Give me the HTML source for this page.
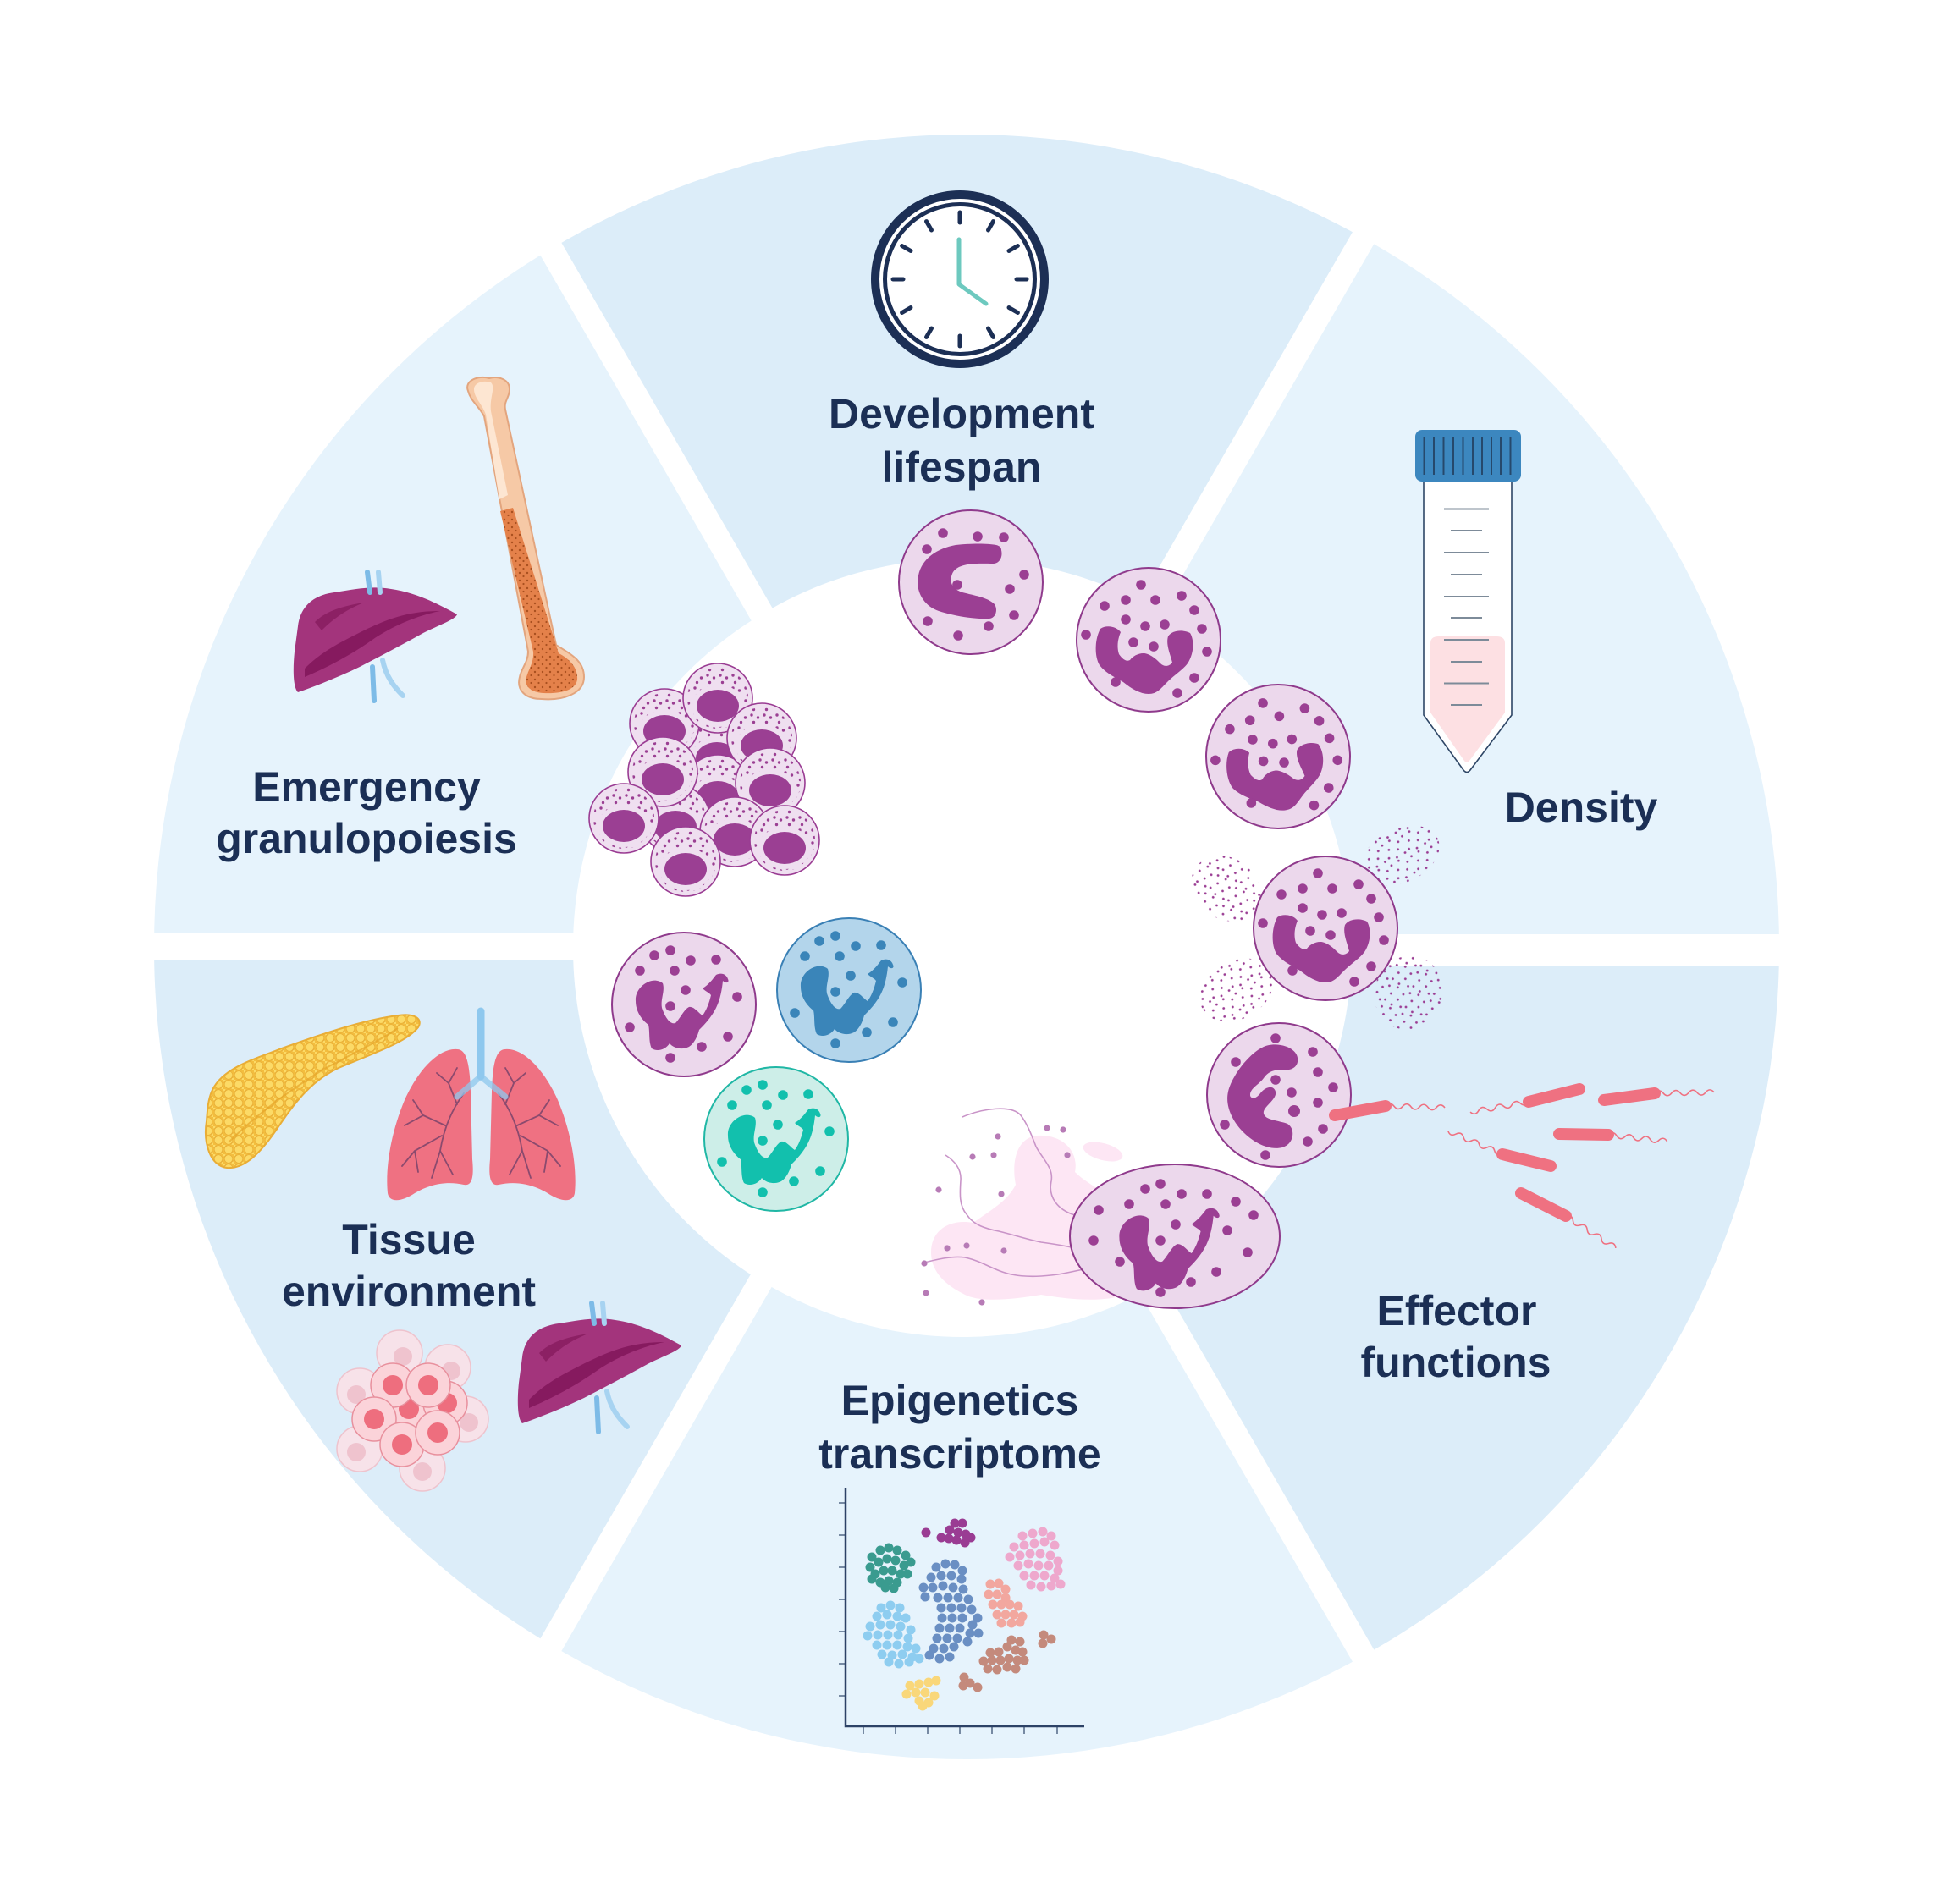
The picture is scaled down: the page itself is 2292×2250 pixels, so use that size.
<!DOCTYPE html>
<html><head><meta charset="utf-8">
<style>
html,body{margin:0;padding:0;background:#fff;width:2292px;height:2250px;overflow:hidden;}
svg{display:block;overflow:hidden;}
text{font-family:"Liberation Sans",Arial,sans-serif;font-weight:bold;font-size:50px;fill:#1b2f55;text-anchor:middle;}
</style></head>
<body>
<svg width="2292" height="2250" viewBox="0 0 2292 2250" xmlns="http://www.w3.org/2000/svg">
<defs>
  <clipPath id="outer"><circle cx="1142" cy="1119" r="960"/></clipPath>
  <pattern id="gr" width="15" height="15" patternUnits="userSpaceOnUse">
    <circle cx="3" cy="3" r="1.7" fill="#9b3f93"/><circle cx="10.5" cy="6" r="1.7" fill="#9b3f93"/><circle cx="5.5" cy="11.5" r="1.7" fill="#9b3f93"/>
  </pattern>
  <pattern id="sp" width="26" height="26" patternUnits="userSpaceOnUse">
    <circle cx="2" cy="3" r="1.4" fill="#9a3c93"/><circle cx="12" cy="1.5" r="1.4" fill="#9a3c93"/><circle cx="21" cy="7" r="1.4" fill="#9a3c93"/>
    <circle cx="7" cy="11" r="1.4" fill="#9a3c93"/><circle cx="17" cy="15" r="1.4" fill="#9a3c93"/><circle cx="3" cy="20" r="1.4" fill="#9a3c93"/>
    <circle cx="23" cy="22" r="1.4" fill="#9a3c93"/><circle cx="12" cy="23" r="1.4" fill="#9a3c93"/>
  </pattern>
  <pattern id="pc" width="12" height="11" patternUnits="userSpaceOnUse">
    <rect width="12" height="11" fill="#f3bd3e"/>
    <circle cx="6" cy="5.5" r="4.8" fill="#fcda66" stroke="#e8ad34" stroke-width="0.7"/>
    <circle cx="0" cy="0" r="3" fill="#fcda66" stroke="#e8ad34" stroke-width="0.7"/>
    <circle cx="12" cy="11" r="3" fill="#fcda66" stroke="#e8ad34" stroke-width="0.7"/>
  </pattern>
  <pattern id="bm" width="9" height="9" patternUnits="userSpaceOnUse">
    <rect width="9" height="9" fill="#e4814a"/>
    <circle cx="2" cy="2" r="1.2" fill="#a9501f"/><circle cx="6.5" cy="6" r="1.1" fill="#a9501f"/>
  </pattern>

  <g id="camel">
    <path d="M-38,-28 C-48,-26 -58,-16 -57,-4 C-57,8 -50,18 -42,24 C-40,32 -42,44 -38,52 C-32,56 -22,54 -17,46 C-12,52 -2,54 6,50 C12,46 16,38 18,30 C24,24 32,16 38,4 C43,-6 45,-18 46,-28 C50,-24 54,-26 52,-30 C50,-36 44,-38 38,-35 C34,-30 30,-24 22,-19 C26,-15 30,-14 32,-11 C30,-2 26,8 22,13 C17,10 12,2 6,3 C0,6 -4,16 -10,22 C-16,24 -22,16 -26,4 C-28,-6 -22,-16 -25,-25 C-28,-28 -34,-29 -38,-28 Z"/>
    <circle cx="-35" cy="-58" r="5.8"/><circle cx="-16" cy="-64" r="5.8"/><circle cx="8" cy="-52" r="5.8"/><circle cx="38" cy="-53" r="5.8"/>
    <circle cx="-52" cy="-40" r="5.8"/><circle cx="-11" cy="-40" r="5.8"/><circle cx="2" cy="-17" r="5.8"/><circle cx="-16" cy="2" r="5.8"/>
    <circle cx="63" cy="-9" r="5.8"/><circle cx="-64" cy="27" r="5.8"/><circle cx="52" cy="38" r="5.8"/><circle cx="21" cy="50" r="5.8"/><circle cx="-16" cy="63" r="5.8"/>
  </g>
  <g id="wn">
    <path d="M-57,-13 C-50,-18 -38,-16 -33,-9 C-36,-2 -38,8 -35,17 C-30,24 -26,26 -22,24 C-18,18 -8,14 -1,17 C6,20 10,24 14,28 C18,32 24,32 28,27 C26,18 20,6 23,-4 C28,-12 42,-12 49,-8 C54,0 54,16 46,28 C40,36 30,42 22,50 C14,58 10,64 0,64 C-10,64 -20,58 -30,50 C-40,44 -50,40 -58,30 C-64,20 -64,0 -57,-13 Z"/>
    <circle cx="-9" cy="-65" r="5.8"/><circle cx="-52" cy="-40" r="5.8"/><circle cx="-27" cy="-47" r="5.8"/><circle cx="8" cy="-47" r="5.8"/>
    <circle cx="39" cy="-52" r="5.8"/><circle cx="54" cy="-35" r="5.8"/><circle cx="-27" cy="-24" r="5.8"/><circle cx="-4" cy="-16" r="5.8"/>
    <circle cx="19" cy="-18" r="5.8"/><circle cx="-18" cy="3" r="5.8"/><circle cx="6" cy="8" r="5.8"/><circle cx="-74" cy="-6" r="5.8"/>
    <circle cx="63" cy="-13" r="5.8"/><circle cx="69" cy="14" r="5.8"/><circle cx="54" cy="45" r="5.8"/><circle cx="34" cy="63" r="5.8"/><circle cx="-39" cy="50" r="5.8"/>
  </g>
  <g id="imm">
    <circle r="41" fill="#efdff0" stroke="#9a3c93" stroke-width="1.6"/>
    <circle r="36" fill="url(#gr)"/>
    <ellipse cx="0" cy="9" rx="31" ry="25" fill="#efdff0"/>
    <ellipse cx="0" cy="9" rx="25" ry="19" fill="#9b3f93"/>
  </g>
  <g id="liver">
    <path d="M352,740 C355,715 372,703 395,700 C420,696 440,692 462,696 C490,700 515,712 540,726 C538,732 520,738 500,748 C475,762 450,775 425,788 C400,800 375,810 352,818 C346,812 346,790 348,770 Z" fill="#a3347c"/>
    <path d="M360,790 C380,770 400,760 430,745 C455,733 480,722 520,722 C490,728 460,742 440,756 C420,770 395,785 360,800 Z" fill="#861a5f"/>
    <path d="M372,735 C385,722 405,716 430,712 C410,720 395,730 380,745 Z" fill="#8c2064"/>
    <path d="M434,676 L437,700 M440,788 L442,828" stroke="#7dbbe7" stroke-width="6" fill="none" stroke-linecap="round"/>
    <path d="M447,676 L449,700 M452,780 C456,800 466,812 476,822" stroke="#a7d3f1" stroke-width="6" fill="none" stroke-linecap="round"/>
  </g>
  <path id="wave" d="M0,0 q5,-6 10,0 t10,0 t10,0 t10,0 t10,0 t10,0 t10,0" fill="none" stroke="#ef7181" stroke-width="1.6"/>
</defs>

<!-- sectors -->
<g clip-path="url(#outer)">
  <polygon points="1127,1119 481,0 1773,0" fill="#dcedf9"/>
  <polygon points="1127,1119 1773,0 2292,0 2292,1119" fill="#e6f3fc"/>
  <polygon points="1127,1119 2292,1119 2292,2250 1780,2250" fill="#dcedf9"/>
  <polygon points="1127,1119 1780,2250 474,2250" fill="#e6f3fc"/>
  <polygon points="1127,1119 474,2250 0,2250 0,1119" fill="#dcedf9"/>
  <polygon points="1127,1119 0,1119 0,0 481,0" fill="#e6f3fc"/>
</g>
<line x1="474" y1="2250" x2="1773" y2="0" stroke="#fff" stroke-width="29"/>
<line x1="481" y1="0" x2="1780" y2="2250" stroke="#fff" stroke-width="29"/>
<rect x="0" y="1103" width="1127" height="31" fill="#fff"/>
<rect x="1127" y="1104" width="1165" height="37" fill="#fff"/>
<circle cx="1137" cy="1120" r="460" fill="#fff"/>

<!-- labels -->
<text x="1136" y="506">Development</text>
<text x="1136" y="569">lifespan</text>
<text x="433" y="947">Emergency</text>
<text x="433" y="1008">granulopoiesis</text>
<text x="1868" y="971">Density</text>
<text x="483" y="1482">Tissue</text>
<text x="483" y="1543">environment</text>
<text x="1134" y="1672">Epigenetics</text>
<text x="1134" y="1735">transcriptome</text>
<text x="1721" y="1566">Effector</text>
<text x="1720" y="1627">functions</text>

<!-- clock -->
<g transform="translate(1134,330)">
  <circle r="100" fill="#fff" stroke="#1c2f55" stroke-width="10"/>
  <circle r="88.5" fill="#fff" stroke="#1c2f55" stroke-width="5"/>
  <g stroke="#1c2f55" stroke-width="5" stroke-linecap="round">
    <line x1="0" y1="-67" x2="0" y2="-79"/>
    <line x1="0" y1="-67" x2="0" y2="-79" transform="rotate(30)"/>
    <line x1="0" y1="-67" x2="0" y2="-79" transform="rotate(60)"/>
    <line x1="0" y1="-67" x2="0" y2="-79" transform="rotate(90)"/>
    <line x1="0" y1="-67" x2="0" y2="-79" transform="rotate(120)"/>
    <line x1="0" y1="-67" x2="0" y2="-79" transform="rotate(150)"/>
    <line x1="0" y1="-67" x2="0" y2="-79" transform="rotate(180)"/>
    <line x1="0" y1="-67" x2="0" y2="-79" transform="rotate(210)"/>
    <line x1="0" y1="-67" x2="0" y2="-79" transform="rotate(240)"/>
    <line x1="0" y1="-67" x2="0" y2="-79" transform="rotate(270)"/>
    <line x1="0" y1="-67" x2="0" y2="-79" transform="rotate(300)"/>
    <line x1="0" y1="-67" x2="0" y2="-79" transform="rotate(330)"/>
  </g>
  <path d="M-1,-47 L-1,6 L31,29" fill="none" stroke="#6dc9bf" stroke-width="5" stroke-linecap="round" stroke-linejoin="round"/>
</g>

<!-- tube -->
<g>
  <path d="M1682,569 L1682,845 L1729,910 Q1733,915 1737,910 L1786,845 L1786,569 Z" fill="#fff" stroke="#2e4666" stroke-width="1.6"/>
  <path d="M1690,760 Q1690,752 1700,752 L1768,752 Q1778,752 1778,760 L1778,842 L1736,899 Q1733,903 1730,899 L1690,842 Z" fill="#fde0e3"/>
  <g stroke="#7d8b99" stroke-width="2">
    <line x1="1706" y1="601.5" x2="1759" y2="601.5"/><line x1="1714" y1="627" x2="1751" y2="627"/>
    <line x1="1706" y1="653" x2="1759" y2="653"/><line x1="1714" y1="679" x2="1751" y2="679"/>
    <line x1="1706" y1="705" x2="1759" y2="705"/><line x1="1714" y1="730" x2="1751" y2="730"/>
    <line x1="1706" y1="756" x2="1759" y2="756"/><line x1="1714" y1="782" x2="1751" y2="782"/>
    <line x1="1706" y1="807.5" x2="1759" y2="807.5"/><line x1="1714" y1="833" x2="1751" y2="833"/>
  </g>
  <rect x="1672" y="508" width="125" height="61" rx="8" fill="#3c87bf"/>
  <g stroke="#26496c" stroke-width="2">
    <line x1="1682.5" y1="517" x2="1682.5" y2="561"/><line x1="1694" y1="517" x2="1694" y2="561"/>
    <line x1="1705.5" y1="517" x2="1705.5" y2="561"/><line x1="1717" y1="517" x2="1717" y2="561"/>
    <line x1="1728.5" y1="517" x2="1728.5" y2="561"/><line x1="1740" y1="517" x2="1740" y2="561"/>
    <line x1="1751" y1="517" x2="1751" y2="561"/><line x1="1762" y1="517" x2="1762" y2="561"/>
    <line x1="1773" y1="517" x2="1773" y2="561"/><line x1="1784.5" y1="517" x2="1784.5" y2="561"/>
  </g>
</g>

<!-- bone -->
<g>
  <path d="M553,462 C548,450 565,443 578,447 C588,444 602,448 602,460 C602,470 595,474 597,484 L657,762 C668,770 690,778 690,800 C690,820 665,828 640,826 C620,826 610,815 614,800 C616,790 624,782 624,770 L572,492 C566,480 556,474 553,462 Z" fill="#f6c9a6" stroke="#e3a57e" stroke-width="2"/>
  <path d="M560,460 C560,452 572,449 580,452 C586,458 578,470 580,486 L600,585 L590,590 L574,490 C570,478 560,470 560,460 Z" fill="#fde6d2"/>
  <path d="M591,604 L606,600 L660,772 C674,779 683,790 682,803 C680,816 662,820 642,819 C626,818 619,810 622,800 C625,790 631,782 630,770 Z" fill="url(#bm)"/>
</g>

<!-- livers -->
<use href="#liver"/>
<use href="#liver" transform="translate(265,864)"/>

<!-- pancreas -->
<path d="M250,1290 C262,1262 300,1252 330,1240 C380,1222 430,1205 470,1200 C490,1197 500,1204 494,1214 C480,1232 440,1245 400,1262 C370,1276 350,1300 330,1330 C310,1360 290,1382 268,1380 C248,1378 240,1350 244,1325 C245,1310 246,1300 250,1290 Z" fill="url(#pc)" stroke="#e9ad35" stroke-width="2"/>
<path d="M270,1350 C300,1320 340,1290 380,1265 C410,1248 440,1235 470,1215" fill="none" stroke="#e6a52a" stroke-width="2" opacity="0.7"/>

<!-- lungs -->
<g>
  <path d="M540,1240 C520,1238 495,1262 478,1300 C462,1338 455,1380 458,1410 C460,1422 475,1420 490,1410 C510,1398 530,1396 548,1400 C558,1402 560,1390 558,1370 L556,1290 C555,1260 552,1240 540,1240 Z" fill="#ef7182"/>
  <path d="M597,1240 C617,1238 642,1262 659,1300 C675,1338 682,1380 679,1410 C677,1422 662,1420 647,1410 C627,1398 607,1396 589,1400 C579,1402 577,1390 579,1370 L581,1290 C582,1260 585,1240 597,1240 Z" fill="#ef7182"/>
  <g stroke="#8b4a6e" stroke-width="1.8" fill="none" stroke-linecap="round">
    <path d="M548,1292 C535,1310 525,1330 520,1360 L510,1392 M520,1360 L535,1388 M526,1330 L500,1318 L488,1300 M500,1318 L478,1330 M522,1342 L490,1360 L475,1378 M490,1360 L494,1385 M540,1305 L530,1280 L516,1268 M530,1280 L540,1262"/>
    <path d="M589,1292 C602,1310 612,1330 617,1360 L627,1392 M617,1360 L602,1388 M611,1330 L637,1318 L649,1300 M637,1318 L659,1330 M615,1342 L647,1360 L662,1378 M647,1360 L643,1385 M597,1305 L607,1280 L621,1268 M607,1280 L597,1262"/>
  </g>
  <path d="M568,1195 L568,1272" stroke="#8ec8ee" stroke-width="9" stroke-linecap="round"/>
  <path d="M568,1272 L540,1296 M568,1272 L597,1296" stroke="#8ec8ee" stroke-width="7" stroke-linecap="round" opacity="0.75"/>
</g>

<!-- tissue cell cluster -->
<g>
  <g fill="#f7e2e9" stroke="#eec3cd" stroke-width="1.5">
    <circle cx="472" cy="1599" r="27"/><circle cx="529" cy="1616" r="27"/><circle cx="425" cy="1644" r="27"/>
    <circle cx="550" cy="1677" r="27"/><circle cx="425" cy="1712" r="27"/><circle cx="499" cy="1735" r="27"/>
  </g>
  <g fill="#efc3ce">
    <circle cx="476" cy="1603" r="11"/><circle cx="533" cy="1620" r="11"/><circle cx="421" cy="1648" r="11"/>
    <circle cx="554" cy="1681" r="11"/><circle cx="421" cy="1716" r="11"/><circle cx="499" cy="1739" r="11"/>
  </g>
  <g stroke="#e8909d" stroke-width="1.5">
    <circle cx="483" cy="1665" r="26" fill="#fbd3d9"/><circle cx="483" cy="1665" r="12" fill="#ee6e7e" stroke="none"/>
    <circle cx="526" cy="1658" r="26" fill="#fbd3d9"/><circle cx="528" cy="1658" r="12" fill="#ee6e7e" stroke="none"/>
    <circle cx="464" cy="1637" r="26" fill="#fbd3d9"/><circle cx="464" cy="1637" r="12" fill="#ee6e7e" stroke="none"/>
    <circle cx="506" cy="1637" r="26" fill="#fbd3d9"/><circle cx="506" cy="1637" r="12" fill="#ee6e7e" stroke="none"/>
    <circle cx="442" cy="1677" r="26" fill="#fbd3d9"/><circle cx="442" cy="1677" r="12" fill="#ee6e7e" stroke="none"/>
    <circle cx="475" cy="1707" r="26" fill="#fbd3d9"/><circle cx="475" cy="1707" r="12" fill="#ee6e7e" stroke="none"/>
    <circle cx="517" cy="1693" r="26" fill="#fbd3d9"/><circle cx="517" cy="1693" r="12" fill="#ee6e7e" stroke="none"/>
  </g>
</g>

<!-- scatter plot -->
<g>
  <g stroke="#6b7e99" stroke-width="1.8">
    <line x1="991" y1="1776" x2="999" y2="1776"/><line x1="991" y1="1814" x2="999" y2="1814"/><line x1="991" y1="1852" x2="999" y2="1852"/>
    <line x1="991" y1="1890" x2="999" y2="1890"/><line x1="991" y1="1928" x2="999" y2="1928"/><line x1="991" y1="1966" x2="999" y2="1966"/>
    <line x1="991" y1="2004" x2="999" y2="2004"/>
    <line x1="1020" y1="2040" x2="1020" y2="2049"/><line x1="1058" y1="2040" x2="1058" y2="2049"/><line x1="1096" y1="2040" x2="1096" y2="2049"/>
    <line x1="1134" y1="2040" x2="1134" y2="2049"/><line x1="1172" y1="2040" x2="1172" y2="2049"/><line x1="1210" y1="2040" x2="1210" y2="2049"/>
    <line x1="1249" y1="2040" x2="1249" y2="2049"/>
  </g>
  <path d="M999,1758 L999,2040 L1281,2040" fill="none" stroke="#2d4266" stroke-width="2.5"/>
  <g fill="#3a9b8f">
    <circle cx="1030" cy="1840" r="5.5"/><circle cx="1040" cy="1832" r="5.5"/><circle cx="1050" cy="1829" r="5.5"/><circle cx="1060" cy="1832" r="5.5"/>
    <circle cx="1070" cy="1838" r="5.5"/><circle cx="1076" cy="1846" r="5.5"/><circle cx="1028" cy="1852" r="5.5"/><circle cx="1038" cy="1846" r="5.5"/>
    <circle cx="1048" cy="1842" r="5.5"/><circle cx="1058" cy="1844" r="5.5"/><circle cx="1068" cy="1850" r="5.5"/><circle cx="1034" cy="1860" r="5.5"/>
    <circle cx="1044" cy="1856" r="5.5"/><circle cx="1054" cy="1856" r="5.5"/><circle cx="1064" cy="1860" r="5.5"/><circle cx="1040" cy="1870" r="5.5"/>
    <circle cx="1050" cy="1868" r="5.5"/><circle cx="1060" cy="1870" r="5.5"/><circle cx="1046" cy="1876" r="5.5"/><circle cx="1056" cy="1877" r="5.5"/>
    <circle cx="1030" cy="1866" r="5.5"/><circle cx="1072" cy="1860" r="5.5"/>
  </g>
  <g fill="#9a3c93">
    <circle cx="1094" cy="1811" r="5.5"/><circle cx="1112" cy="1817" r="5.5"/><circle cx="1122" cy="1808" r="5.5"/><circle cx="1128" cy="1800" r="5.5"/>
    <circle cx="1137" cy="1800" r="5.5"/><circle cx="1132" cy="1811" r="5.5"/><circle cx="1141" cy="1813" r="5.5"/><circle cx="1147" cy="1817" r="5.5"/>
    <circle cx="1140" cy="1823" r="5.5"/><circle cx="1130" cy="1820" r="5.5"/><circle cx="1121" cy="1818" r="5.5"/>
  </g>
  <g fill="#eea8cd">
    <circle cx="1208" cy="1815" r="5.5"/><circle cx="1220" cy="1812" r="5.5"/><circle cx="1232" cy="1810" r="5.5"/><circle cx="1242" cy="1815" r="5.5"/>
    <circle cx="1198" cy="1828" r="5.5"/><circle cx="1210" cy="1826" r="5.5"/><circle cx="1222" cy="1824" r="5.5"/><circle cx="1234" cy="1822" r="5.5"/>
    <circle cx="1246" cy="1826" r="5.5"/><circle cx="1193" cy="1840" r="5.5"/><circle cx="1205" cy="1838" r="5.5"/><circle cx="1217" cy="1836" r="5.5"/>
    <circle cx="1229" cy="1836" r="5.5"/><circle cx="1241" cy="1838" r="5.5"/><circle cx="1250" cy="1845" r="5.5"/><circle cx="1203" cy="1850" r="5.5"/>
    <circle cx="1215" cy="1848" r="5.5"/><circle cx="1227" cy="1850" r="5.5"/><circle cx="1239" cy="1850" r="5.5"/><circle cx="1250" cy="1856" r="5.5"/>
    <circle cx="1210" cy="1862" r="5.5"/><circle cx="1222" cy="1862" r="5.5"/><circle cx="1234" cy="1862" r="5.5"/><circle cx="1246" cy="1865" r="5.5"/>
    <circle cx="1253" cy="1872" r="5.5"/><circle cx="1218" cy="1873" r="5.5"/><circle cx="1230" cy="1875" r="5.5"/><circle cx="1242" cy="1874" r="5.5"/>
  </g>
  <g fill="#6a8fc3">
    <circle cx="1106" cy="1852" r="5.5"/><circle cx="1117" cy="1848" r="5.5"/><circle cx="1128" cy="1849" r="5.5"/><circle cx="1137" cy="1856" r="5.5"/>
    <circle cx="1100" cy="1864" r="5.5"/><circle cx="1112" cy="1862" r="5.5"/><circle cx="1124" cy="1862" r="5.5"/><circle cx="1136" cy="1866" r="5.5"/>
    <circle cx="1091" cy="1876" r="5.5"/><circle cx="1102" cy="1876" r="5.5"/><circle cx="1114" cy="1874" r="5.5"/><circle cx="1126" cy="1876" r="5.5"/>
    <circle cx="1138" cy="1878" r="5.5"/><circle cx="1093" cy="1887" r="5.5"/><circle cx="1108" cy="1888" r="5.5"/><circle cx="1120" cy="1888" r="5.5"/>
    <circle cx="1132" cy="1888" r="5.5"/><circle cx="1144" cy="1890" r="5.5"/><circle cx="1112" cy="1900" r="5.5"/><circle cx="1124" cy="1900" r="5.5"/>
    <circle cx="1136" cy="1900" r="5.5"/><circle cx="1148" cy="1902" r="5.5"/><circle cx="1155" cy="1912" r="5.5"/><circle cx="1113" cy="1912" r="5.5"/>
    <circle cx="1125" cy="1912" r="5.5"/><circle cx="1137" cy="1912" r="5.5"/><circle cx="1149" cy="1920" r="5.5"/><circle cx="1110" cy="1924" r="5.5"/>
    <circle cx="1122" cy="1924" r="5.5"/><circle cx="1134" cy="1924" r="5.5"/><circle cx="1146" cy="1930" r="5.5"/><circle cx="1156" cy="1930" r="5.5"/>
    <circle cx="1107" cy="1936" r="5.5"/><circle cx="1119" cy="1936" r="5.5"/><circle cx="1131" cy="1936" r="5.5"/><circle cx="1143" cy="1940" r="5.5"/>
    <circle cx="1103" cy="1948" r="5.5"/><circle cx="1115" cy="1948" r="5.5"/><circle cx="1127" cy="1946" r="5.5"/><circle cx="1098" cy="1956" r="5.5"/>
    <circle cx="1110" cy="1960" r="5.5"/><circle cx="1122" cy="1958" r="5.5"/>
  </g>
  <g fill="#8ecdf0">
    <circle cx="1041" cy="1900" r="5.5"/><circle cx="1052" cy="1897" r="5.5"/><circle cx="1063" cy="1900" r="5.5"/><circle cx="1036" cy="1910" r="5.5"/>
    <circle cx="1048" cy="1908" r="5.5"/><circle cx="1060" cy="1910" r="5.5"/><circle cx="1070" cy="1912" r="5.5"/><circle cx="1028" cy="1922" r="5.5"/>
    <circle cx="1040" cy="1920" r="5.5"/><circle cx="1052" cy="1920" r="5.5"/><circle cx="1064" cy="1922" r="5.5"/><circle cx="1076" cy="1926" r="5.5"/>
    <circle cx="1025" cy="1933" r="5.5"/><circle cx="1037" cy="1932" r="5.5"/><circle cx="1049" cy="1932" r="5.5"/><circle cx="1061" cy="1932" r="5.5"/>
    <circle cx="1073" cy="1936" r="5.5"/><circle cx="1036" cy="1944" r="5.5"/><circle cx="1048" cy="1944" r="5.5"/><circle cx="1060" cy="1944" r="5.5"/>
    <circle cx="1072" cy="1946" r="5.5"/><circle cx="1082" cy="1948" r="5.5"/><circle cx="1042" cy="1955" r="5.5"/><circle cx="1054" cy="1956" r="5.5"/>
    <circle cx="1066" cy="1955" r="5.5"/><circle cx="1078" cy="1958" r="5.5"/><circle cx="1086" cy="1960" r="5.5"/><circle cx="1050" cy="1964" r="5.5"/>
    <circle cx="1062" cy="1966" r="5.5"/><circle cx="1074" cy="1964" r="5.5"/>
  </g>
  <g fill="#f2a79f">
    <circle cx="1170" cy="1872" r="5.5"/><circle cx="1180" cy="1871" r="5.5"/><circle cx="1188" cy="1878" r="5.5"/><circle cx="1168" cy="1884" r="5.5"/>
    <circle cx="1178" cy="1884" r="5.5"/><circle cx="1188" cy="1888" r="5.5"/><circle cx="1173" cy="1896" r="5.5"/><circle cx="1183" cy="1896" r="5.5"/>
    <circle cx="1193" cy="1896" r="5.5"/><circle cx="1203" cy="1898" r="5.5"/><circle cx="1178" cy="1908" r="5.5"/><circle cx="1188" cy="1908" r="5.5"/>
    <circle cx="1198" cy="1908" r="5.5"/><circle cx="1208" cy="1910" r="5.5"/><circle cx="1183" cy="1918" r="5.5"/><circle cx="1195" cy="1918" r="5.5"/>
    <circle cx="1205" cy="1917" r="5.5"/>
  </g>
  <g fill="#c48a7c">
    <circle cx="1195" cy="1938" r="5.5"/><circle cx="1205" cy="1940" r="5.5"/><circle cx="1190" cy="1946" r="5.5"/><circle cx="1200" cy="1950" r="5.5"/>
    <circle cx="1208" cy="1952" r="5.5"/><circle cx="1170" cy="1953" r="5.5"/><circle cx="1180" cy="1952" r="5.5"/><circle cx="1162" cy="1963" r="5.5"/>
    <circle cx="1172" cy="1962" r="5.5"/><circle cx="1182" cy="1962" r="5.5"/><circle cx="1192" cy="1960" r="5.5"/><circle cx="1202" cy="1962" r="5.5"/>
    <circle cx="1210" cy="1962" r="5.5"/><circle cx="1167" cy="1972" r="5.5"/><circle cx="1178" cy="1973" r="5.5"/><circle cx="1190" cy="1970" r="5.5"/>
    <circle cx="1200" cy="1972" r="5.5"/>
    <circle cx="1233" cy="1932" r="5.5"/><circle cx="1242" cy="1937" r="5.5"/><circle cx="1232" cy="1942" r="5.5"/>
    <circle cx="1139" cy="1982" r="5.5"/><circle cx="1146" cy="1989" r="5.5"/><circle cx="1138" cy="1992" r="5.5"/><circle cx="1155" cy="1994" r="5.5"/>
  </g>
  <g fill="#f9d77a">
    <circle cx="1075" cy="1992" r="5.5"/><circle cx="1086" cy="1990" r="5.5"/><circle cx="1097" cy="1988" r="5.5"/><circle cx="1106" cy="1986" r="5.5"/>
    <circle cx="1071" cy="2002" r="5.5"/><circle cx="1082" cy="2000" r="5.5"/><circle cx="1093" cy="2000" r="5.5"/><circle cx="1104" cy="2004" r="5.5"/>
    <circle cx="1086" cy="2010" r="5.5"/><circle cx="1097" cy="2012" r="5.5"/><circle cx="1090" cy="2016" r="5.5"/>
  </g>
</g>

<!-- NET -->
<g>
  <path d="M1100,1480 C1100,1455 1120,1440 1150,1445 C1170,1430 1190,1420 1200,1400 C1195,1375 1200,1345 1225,1342 C1255,1340 1275,1360 1270,1385 C1285,1400 1310,1410 1330,1430 L1330,1530 C1300,1540 1260,1535 1230,1530 C1200,1535 1160,1540 1140,1530 C1120,1520 1100,1505 1100,1480 Z" fill="#fde6f4"/>
  <ellipse cx="1303" cy="1361" rx="24" ry="10" transform="rotate(15 1303 1361)" fill="#fde6f4"/>
  <g fill="none" stroke="#c994c8" stroke-width="1.6">
    <path d="M1137,1320 C1160,1310 1195,1305 1206,1318 C1215,1330 1220,1345 1224,1355 C1232,1370 1245,1380 1242,1396 C1238,1415 1250,1430 1270,1436"/>
    <path d="M1117,1365 C1128,1372 1136,1382 1135,1395 C1134,1410 1133,1425 1142,1435 C1150,1448 1165,1452 1180,1455 C1200,1460 1215,1465 1230,1468 C1245,1470 1258,1472 1270,1475"/>
    <path d="M1092,1492 C1108,1488 1125,1484 1140,1486 C1160,1490 1175,1502 1195,1506 C1215,1510 1235,1508 1250,1506 C1262,1504 1270,1502 1280,1500"/>
  </g>
  <g fill="#b77bb6">
    <circle cx="1179" cy="1343" r="3.6"/><circle cx="1237" cy="1333" r="3.6"/><circle cx="1256" cy="1335" r="3.6"/><circle cx="1149" cy="1367" r="3.6"/>
    <circle cx="1174" cy="1365" r="3.6"/><circle cx="1261" cy="1365" r="3.6"/><circle cx="1109" cy="1406" r="3.6"/><circle cx="1183" cy="1411" r="3.6"/>
    <circle cx="1119" cy="1475" r="3.6"/><circle cx="1142" cy="1472" r="3.6"/><circle cx="1186" cy="1478" r="3.6"/><circle cx="1092" cy="1493" r="3.6"/>
    <circle cx="1094" cy="1528" r="3.6"/><circle cx="1160" cy="1539" r="3.6"/>
  </g>
</g>

<!-- granule clouds -->
<ellipse cx="1449" cy="1050" rx="44" ry="36" transform="rotate(35 1449 1050)" fill="url(#sp)"/>
<ellipse cx="1655" cy="1011" rx="48" ry="32" transform="rotate(-25 1655 1011)" fill="url(#sp)"/>
<ellipse cx="1461" cy="1170" rx="46" ry="34" transform="rotate(-30 1461 1170)" fill="url(#sp)"/>
<ellipse cx="1664" cy="1173" rx="40" ry="44" transform="rotate(20 1664 1173)" fill="url(#sp)"/>

<!-- immature cluster -->
<use href="#imm" transform="translate(847,887)"/>
<use href="#imm" transform="translate(848,933)"/>
<use href="#imm" transform="translate(798,968)"/>
<use href="#imm" transform="translate(785,855)"/>
<use href="#imm" transform="translate(848,825)"/>
<use href="#imm" transform="translate(900,872)"/>
<use href="#imm" transform="translate(783,912)"/>
<use href="#imm" transform="translate(910,925)"/>
<use href="#imm" transform="translate(737,967)"/>
<use href="#imm" transform="translate(868,983)"/>
<use href="#imm" transform="translate(927,993)"/>
<use href="#imm" transform="translate(810,1018)"/>

<!-- ring of neutrophils -->
<g>
  <circle cx="1147" cy="688" r="85" fill="#ecd8ec" stroke="#8f3a8c" stroke-width="2"/>
  <g transform="translate(1147,688)" fill="#9b3f93">
    <path d="M36,-38 C38,-30 34,-22 26,-22 C10,-22 -16,-24 -22,-10 C-26,0 -22,8 -10,12 C6,16 20,18 28,26 C32,32 30,42 22,43 C6,44 -20,40 -38,34 C-56,28 -66,10 -62,-8 C-58,-28 -40,-40 -18,-44 C0,-46 20,-46 30,-44 C34,-43 36,-41 36,-38 Z"/>
    <circle cx="-33" cy="-58" r="5.8"/><circle cx="8" cy="-54" r="5.8"/><circle cx="39" cy="-53" r="5.8"/><circle cx="-52" cy="-39" r="5.8"/>
    <circle cx="63" cy="-9" r="5.8"/><circle cx="-16" cy="3" r="5.8"/><circle cx="46" cy="8" r="5.8"/><circle cx="51" cy="39" r="5.8"/>
    <circle cx="-51" cy="46" r="5.8"/><circle cx="21" cy="52" r="5.8"/><circle cx="-15" cy="63" r="5.8"/>
  </g>

  <circle cx="1357" cy="756" r="85" fill="#ecd8ec" stroke="#8f3a8c" stroke-width="2"/>
  <use href="#wn" transform="translate(1357,756)" fill="#9b3f93"/>
  <circle cx="1510" cy="894" r="85" fill="#ecd8ec" stroke="#8f3a8c" stroke-width="2"/>
  <use href="#wn" transform="translate(1510,894) rotate(-8)" fill="#9b3f93"/>
  <circle cx="1566" cy="1097" r="85" fill="#ecd8ec" stroke="#8f3a8c" stroke-width="2"/>
  <use href="#wn" transform="translate(1566,1097)" fill="#9b3f93"/>

  <circle cx="1511" cy="1294" r="85" fill="#ecd8ec" stroke="#8f3a8c" stroke-width="2"/>
  <g transform="translate(1511,1294)" fill="#9b3f93">
    <path d="M-20,-56 C-6,-64 20,-58 22,-44 C24,-32 12,-28 4,-30 C-8,-30 -14,-26 -18,-20 C-24,-12 -34,-8 -34,0 C-34,4 -28,6 -22,-2 C-16,-10 -6,-12 -4,-4 C-2,6 -20,14 -18,22 C-16,30 0,30 10,34 C20,40 18,58 4,62 C-12,66 -30,56 -42,44 C-54,32 -64,14 -60,-4 C-56,-22 -36,-48 -20,-56 Z"/>
    <circle cx="-4" cy="-67" r="5.8"/><circle cx="-51" cy="-39" r="5.8"/><circle cx="40" cy="-51" r="5.8"/><circle cx="46" cy="-27" r="5.8"/>
    <circle cx="-4" cy="-18" r="5.8"/><circle cx="64" cy="-9" r="5.8"/><circle cx="15" cy="-3" r="5.8"/><circle cx="46" cy="9" r="5.8"/>
    <circle cx="18" cy="19" r="7"/><circle cx="-64" cy="35" r="5.8"/><circle cx="52" cy="40" r="5.8"/><circle cx="34" cy="55" r="5.8"/><circle cx="-16" cy="71" r="5.8"/>
  </g>

  <ellipse cx="1388" cy="1461" rx="124" ry="85" fill="#ecd8ec" stroke="#8f3a8c" stroke-width="2"/>
  <g transform="translate(1388,1461)" fill="#9b3f93">
    <path transform="translate(-4,6) scale(1.08)" d="M-38,-28 C-48,-26 -58,-16 -57,-4 C-57,8 -50,18 -42,24 C-40,32 -42,44 -38,52 C-32,56 -22,54 -17,46 C-12,52 -2,54 6,50 C12,46 16,38 18,30 C24,24 32,16 38,4 C43,-6 45,-18 46,-28 C50,-24 54,-26 52,-30 C50,-36 44,-38 38,-35 C34,-30 30,-24 22,-19 C26,-15 30,-14 32,-11 C30,-2 26,8 22,13 C17,10 12,2 6,3 C0,6 -4,16 -10,22 C-16,24 -22,16 -26,4 C-28,-6 -22,-16 -25,-25 C-28,-28 -34,-29 -38,-28 Z"/>
    <circle cx="-90" cy="-31" r="5.8"/><circle cx="-54" cy="-38" r="5.8"/><circle cx="-35" cy="-56" r="5.8"/><circle cx="-17" cy="-62" r="5.8"/>
    <circle cx="8" cy="-50" r="5.8"/><circle cx="38" cy="-50" r="5.8"/><circle cx="-11" cy="-38" r="5.8"/><circle cx="72" cy="-41" r="5.8"/>
    <circle cx="93" cy="-25" r="5.8"/><circle cx="1" cy="-14" r="5.8"/><circle cx="62" cy="-7" r="5.8"/><circle cx="-96" cy="5" r="5.8"/>
    <circle cx="-17" cy="5" r="5.8"/><circle cx="86" cy="19" r="5.8"/><circle cx="-65" cy="30" r="5.8"/><circle cx="49" cy="42" r="5.8"/>
    <circle cx="19" cy="54" r="5.8"/><circle cx="-17" cy="66" r="5.8"/>
  </g>

  <circle cx="808" cy="1187" r="85" fill="#ecd8ec" stroke="#8f3a8c" stroke-width="2"/>
  <use href="#camel" transform="translate(808,1187)" fill="#9b3f93"/>
  <circle cx="1003" cy="1170" r="85" fill="#b3d5eb" stroke="#3a80b5" stroke-width="2"/>
  <use href="#camel" transform="translate(1003,1170)" fill="#3a85b9"/>
  <circle cx="917" cy="1346" r="85" fill="#cdeee8" stroke="#20b7a5" stroke-width="2"/>
  <use href="#camel" transform="translate(917,1346)" fill="#12c0ad"/>
</g>

<!-- bacteria -->
<g stroke="#ef7181" stroke-width="14" stroke-linecap="round">
  <line x1="1577" y1="1318" x2="1637" y2="1307"/>
  <line x1="1806" y1="1302" x2="1866" y2="1287"/>
  <line x1="1895" y1="1300" x2="1955" y2="1292"/>
  <line x1="1842" y1="1340" x2="1900" y2="1341"/>
  <line x1="1775" y1="1364" x2="1832" y2="1378"/>
  <line x1="1797" y1="1410" x2="1850" y2="1437"/>
</g>
<use href="#wave" transform="translate(1637,1307) rotate(1.6)"/>
<use href="#wave" transform="translate(1806,1302) rotate(170)"/>
<use href="#wave" transform="translate(1955,1292) rotate(-1)"/>
<use href="#wave" transform="translate(1900,1341) rotate(6.4)"/>
<use href="#wave" transform="translate(1775,1364) rotate(203.4)"/>
<use href="#wave" transform="translate(1850,1437) rotate(32.8)"/>
</svg>
</body></html>
